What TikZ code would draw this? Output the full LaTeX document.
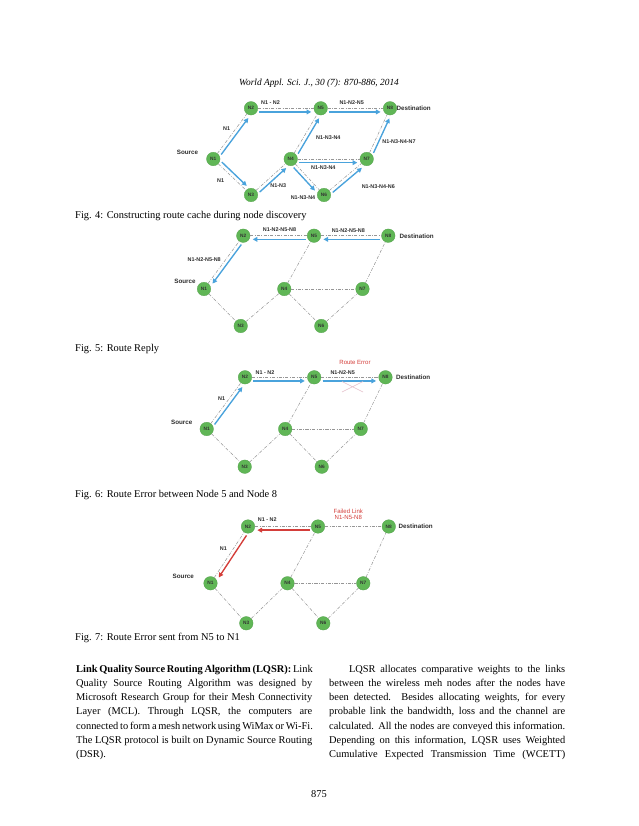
\documentclass[tikz,border=0pt]{standalone}
\usepackage{fontspec}
\setmainfont{Liberation Serif}
\newfontfamily\arial{Liberation Sans}
\usetikzlibrary{calc,arrows.meta}
\definecolor{nodegreen}{RGB}{96,182,86}
\definecolor{nodeedge}{RGB}{82,162,74}
\definecolor{flowblue}{RGB}{74,163,220}
\definecolor{flowred}{RGB}{212,62,58}
\definecolor{linkgray}{RGB}{150,150,150}
\definecolor{labelgray}{RGB}{45,45,45}
\definecolor{crosspink}{RGB}{228,190,200}
\newcommand{\flow}[4][]{\draw[#1] ($(#2)!#4!-90:(#3)$) -- ($(#3)!#4!90:(#2)$);}
\newcommand{\jl}[1]{\makebox[\linewidth][s]{#1}\\}
\tikzset{
  nd/.style={circle, fill=nodegreen, draw=nodeedge, line width=0.3pt, minimum size=13pt, inner sep=0pt,
    font=\arial\bfseries\fontsize{4.6}{5}\selectfont, text=black!80},
  link/.style={draw=linkgray, line width=0.5pt, dash pattern=on 3pt off 1.4pt on 0.6pt off 1.4pt},
  fb/.style={draw=flowblue, fill=flowblue, line width=1.3pt, shorten <=8pt, shorten >=9pt,
    -{Triangle[length=4.5pt,width=4.5pt]}},
  fr/.style={draw=flowred, fill=flowred, line width=1.3pt, shorten <=8pt, shorten >=9pt,
    -{Triangle[length=4.5pt,width=4.5pt]}},
  lbl/.style={font=\arial\bfseries\fontsize{5.2}{6}\selectfont, text=labelgray, inner sep=0pt},
  endlbl/.style={font=\arial\bfseries\fontsize{6}{7}\selectfont, text=labelgray, inner sep=0pt},
  redlbl/.style={font=\arial\fontsize{5.8}{7}\selectfont, text=flowred, inner sep=0pt, align=center},
  txt/.style={inner sep=0pt, font=\fontsize{10}{13.7}\selectfont},
}
\begin{document}
\begin{tikzpicture}[x=0.96pt, y=-0.96pt]
\useasboundingbox (0,0) rectangle (638,826);
\fill[white] (0,0) rectangle (638,826);

% header
\node[anchor=base, inner sep=0pt, font=\itshape\fontsize{9}{11}\selectfont] (hdr) at (319,86) {World Appl. Sci. J., 30 (7): 870-886, 2014};

% ---------- Fig 4 nodes ----------
\node[nd] (a1) at (213.3,159) {N1};
\node[nd] (a2) at (251,108.3) {N2};
\node[nd] (a3) at (251,195) {N3};
\node[nd] (a4) at (290.7,159) {N4};
\node[nd] (a5) at (320.7,108.3) {N5};
\node[nd] (a6) at (324,195) {N6};
\node[nd] (a7) at (366.7,159) {N7};
\node[nd] (a8) at (390,108.3) {N8};
% ---------- Fig 5 nodes ----------
\node[nd] (b1) at (204,289) {N1};
\node[nd] (b2) at (243.3,235.7) {N2};
\node[nd] (b3) at (240.7,326) {N3};
\node[nd] (b4) at (284.3,289) {N4};
\node[nd] (b5) at (314,235.7) {N5};
\node[nd] (b6) at (321.3,326) {N6};
\node[nd] (b7) at (362.5,289) {N7};
\node[nd] (b8) at (388.3,235.7) {N8};
% ---------- Fig 6 nodes ----------
\node[nd] (c1) at (206.7,429) {N1};
\node[nd] (c2) at (245,377.3) {N2};
\node[nd] (c3) at (244.7,466.7) {N3};
\node[nd] (c4) at (285.2,429) {N4};
\node[nd] (c5) at (314.2,377.3) {N5};
\node[nd] (c6) at (321.7,466.7) {N6};
\node[nd] (c7) at (360.7,429) {N7};
\node[nd] (c8) at (385.5,377.3) {N8};
% ---------- Fig 7 nodes ----------
\node[nd] (d1) at (210.5,583.3) {N1};
\node[nd] (d2) at (248,526.5) {N2};
\node[nd] (d3) at (246.3,623.3) {N3};
\node[nd] (d4) at (287.5,583.3) {N4};
\node[nd] (d5) at (318,526.5) {N5};
\node[nd] (d6) at (323.3,623.3) {N6};
\node[nd] (d7) at (363.3,583.3) {N7};
\node[nd] (d8) at (388.8,526.5) {N8};

% gray links
\foreach \p in {a,b,c,d}{
  \foreach \u/\v in {1/2,1/3,2/5,5/8,3/4,4/5,4/7,4/6,6/7,7/8}{
    \draw[link] (\p\u) -- (\p\v);
  }
}

% Fig 4 flows
\flow[fb]{a1}{a2}{3.5pt}
\flow[fb]{a1}{a3}{-3.5pt}
\flow[fb]{a2}{a5}{3.5pt}
\flow[fb]{a5}{a8}{3.5pt}
\flow[fb]{a3}{a4}{3.5pt}
\flow[fb]{a4}{a5}{3.5pt}
\flow[fb]{a4}{a7}{3.5pt}
\flow[fb]{a4}{a6}{3.5pt}
\flow[fb]{a6}{a7}{3.5pt}
\flow[fb]{a7}{a8}{3.5pt}
% Fig 5 flows
\flow[fb]{b8}{b5}{-3.5pt}
\flow[fb]{b5}{b2}{-3.5pt}
\flow[fb]{b2}{b1}{-3.5pt}
% Fig 6 flows
\flow[fb]{c1}{c2}{3.5pt}
\flow[fb]{c2}{c5}{3.5pt}
\flow[fb]{c5}{c8}{3.5pt}
\draw[crosspink, line width=0.6pt] (342,381.5) -- (363,392) (342,392) -- (363,381.5);
% Fig 7 flows
\flow[fr]{d5}{d2}{-3.5pt}
\flow[fr]{d2}{d1}{-3.5pt}

% Fig 4 labels
\node[endlbl] (a-src) at (187.5,152.5) {Source};
\node[endlbl, anchor=west] (a-dst) at (396.5,108.3) {Destination};
\node[lbl] (a-l1) at (270.5,102.5) {N1 - N2};
\node[lbl] (a-l2) at (351.7,102.5) {N1-N2-N5};
\node[lbl] (a-l3) at (226.7,128.3) {N1};
\node[lbl] (a-l4) at (220.7,181) {N1};
\node[lbl] (a-l5) at (328.3,137.5) {N1-N3-N4};
\node[lbl] (a-l6) at (399,141.7) {N1-N3-N4-N7};
\node[lbl] (a-l7) at (323.3,168) {N1-N3-N4};
\node[lbl] (a-l8) at (278.3,186) {N1-N3};
\node[lbl] (a-l9) at (303,198) {N1-N3-N4};
\node[lbl] (a-l10) at (378.3,186.5) {N1-N3-N4-N6};

% Fig 5 labels
\node[endlbl] (b-src) at (185,281.7) {Source};
\node[endlbl, anchor=west] (b-dst) at (399.5,236) {Destination};
\node[lbl] (b-l1) at (279.5,229.3) {N1-N2-N5-N8};
\node[lbl] (b-l2) at (348.3,230.5) {N1-N2-N5-N8};
\node[lbl] (b-l3) at (204.2,259.5) {N1-N2-N5-N8};

% Fig 6 labels
\node[redlbl] (c-err) at (355,362) {Route Error};
\node[endlbl] (c-src) at (181.7,422.3) {Source};
\node[endlbl, anchor=west] (c-dst) at (396,377.7) {Destination};
\node[lbl] (c-l1) at (265,372.7) {N1 - N2};
\node[lbl] (c-l2) at (342.7,372.7) {N1-N2-N5};
\node[lbl] (c-l3) at (221.7,398.3) {N1};

% Fig 7 labels
\node[redlbl] (d-err) at (348.3,514.5) {Failed Link\\[-1.2pt]N1-N5-N8};
\node[endlbl] (d-src) at (183.3,576) {Source};
\node[endlbl, anchor=west] (d-dst) at (398.5,526.3) {Destination};
\node[lbl] (d-l1) at (267.3,520) {N1 - N2};
\node[lbl] (d-l2) at (223.3,548.3) {N1};

% captions
\node[txt, anchor=base west] (cap4) at (75,218) {Fig. 4: Constructing route cache during node discovery};
\node[txt, anchor=base west] (cap5) at (75,351) {Fig. 5: Route Reply};
\node[txt, anchor=base west] (cap6) at (75,497) {Fig. 6: Route Error between Node 5 and Node 8};
\node[txt, anchor=base west] (cap7) at (75,640) {Fig. 7: Route Error sent from N5 to N1};

% body text
\node[txt, anchor=base west] (leftcol) at (76,672) {\parbox[t]{226.6pt}{\fontsize{10}{13.7}\selectfont
\jl{\textbf{Link Quality Source Routing Algorithm (LQSR):} Link}
\jl{Quality Source Routing Algorithm was designed by}
\jl{Microsoft Research Group for their Mesh Connectivity}
\jl{Layer (MCL). Through LQSR, the computers are}
\jl{connected to form a mesh network using WiMax or Wi-Fi.}
\jl{The LQSR protocol is built on Dynamic Source Routing}
(DSR).}};
\node[txt, anchor=base west] (rightcol) at (329,672) {\parbox[t]{226.6pt}{\fontsize{10}{13.7}\selectfont
\jl{\hspace*{19pt}LQSR allocates comparative weights to the links}
\jl{between the wireless meh nodes after the nodes have}
\jl{been detected. Besides allocating weights, for every}
\jl{probable link the bandwidth, loss and the channel are}
\jl{calculated. All the nodes are conveyed this information.}
\jl{Depending on this information, LQSR uses Weighted}
\makebox[\linewidth][s]{Cumulative Expected Transmission Time (WCETT)}}};

\node[txt, anchor=base] (pg) at (319,797) {875};
\end{tikzpicture}
\end{document}
